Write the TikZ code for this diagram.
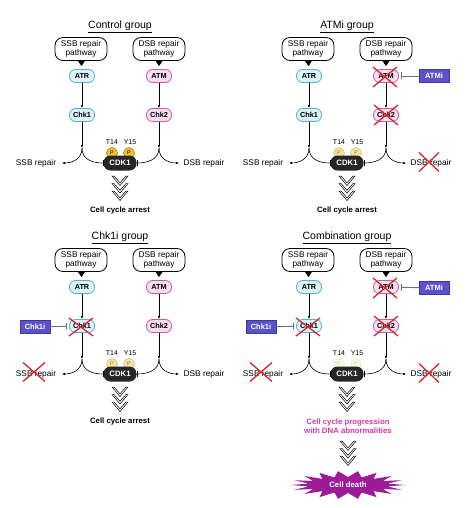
\documentclass[tikz,border=0pt]{standalone}
\usepackage{fontspec}
\setmainfont{Liberation Sans}
\usetikzlibrary{arrows.meta}
\definecolor{atrfill}{HTML}{DDF1F8}
\definecolor{atrdraw}{HTML}{5AAFD0}
\definecolor{atmfill}{HTML}{F9DDF1}
\definecolor{atmdraw}{HTML}{C45FA6}
\definecolor{inhib}{HTML}{5B52C9}
\definecolor{inhibdraw}{HTML}{3E37A0}
\definecolor{xred}{HTML}{D7262B}
\definecolor{phos}{HTML}{F2C12E}
\definecolor{phosdraw}{HTML}{9C7400}
\definecolor{progtext}{HTML}{D6379F}
\definecolor{death}{HTML}{9B1B98}
\tikzset{
 title/.style={inner sep=1pt, font=\fontsize{10.5}{12}\selectfont},
 pathbox/.style={draw, line width=0.8pt, rounded corners=8pt, align=center, minimum width=52pt, minimum height=23pt, font=\fontsize{8.3}{9.3}\selectfont, inner sep=1pt},
 protbox/.style={draw, line width=0.8pt, rounded corners=6pt, minimum width=25pt, minimum height=13pt, font=\bfseries\fontsize{7.3}{8}\selectfont, inner sep=1pt},
 atrbox/.style={protbox, fill=atrfill, draw=atrdraw},
 atmbox/.style={protbox, fill=atmfill, draw=atmdraw},
 cdkbox/.style={fill=black!85, text=white, rounded corners=7pt, minimum width=33pt, minimum height=15pt, inner sep=1pt, font=\bfseries\fontsize{7.8}{8}\selectfont},
 phosc/.style={circle, fill=phos, draw=phosdraw, line width=0.5pt, minimum size=11pt, inner sep=0pt, font=\fontsize{5.5}{5.5}\selectfont},
 lbl/.style={inner sep=1pt, font=\fontsize{8.3}{9}\selectfont},
 smalll/.style={inner sep=1pt, font=\fontsize{7}{8}\selectfont},
 boldl/.style={inner sep=1pt, align=center, font=\bfseries\fontsize{7.8}{9.5}\selectfont},
 inhbox/.style={fill=inhib, draw=inhibdraw, line width=0.5pt, text=white, minimum width=30pt, minimum height=13pt, inner sep=1pt, font=\bfseries\fontsize{7.5}{8}\selectfont},
 act/.style={line width=0.6pt, -{Latex[length=3pt,width=2.6pt]}},
 trig/.style={line width=0.8pt, shorten >=3pt, -{Triangle[length=5pt,width=6.5pt]}},
 blk/.style={line width=0.6pt, -{Bar[width=6pt,line width=0.8pt]}},
 inhline/.style={line width=0.9pt, draw=black!55, shorten >=2pt, -{Bar[width=7pt,line width=0.9pt]}},
 redx/.style={draw=xred, line width=1.3pt},
 chev/.style={fill=white, draw=black, line width=0.5pt, line join=miter},
}
\newcommand\chevrons[2]{%
 \foreach \k in {0,1,2}{%
  \draw[chev] ({#1-8},{#2+7.5*\k}) -- ({#1-6},{#2+7.5*\k}) -- (#1,{#2+7.5*\k+6.8}) -- ({#1+6},{#2+7.5*\k}) -- ({#1+8},{#2+7.5*\k}) -- (#1,{#2+7.5*\k+9.5}) -- cycle;
 }%
}
\newcommand\crossout[4]{% cx cy half-width half-height
 \draw[redx] ({#1-#3},{#2-#4}) -- ({#1+#3},{#2+#4});
 \draw[redx] ({#1-#3},{#2+#4}) -- ({#1+#3},{#2-#4});
}
\newcommand\drawpanel[3]{%
 \node[title] (#1title) at (120,27) {\underline{#2}};
 \node[pathbox] (#1ssb) at (81,49) {SSB repair\\pathway};
 \node[pathbox] (#1dsb) at (159,49) {DSB repair\\pathway};
 \node[atrbox] (#1atr) at (82,76) {ATR};
 \node[atrbox] (#1chk1) at (82,115) {Chk1};
 \node[atmbox] (#1atm) at (159,76) {ATM};
 \node[atmbox] (#1chk2) at (159,115) {Chk2};
 \draw[trig] (#1ssb) -- (#1atr);
 \draw[trig] (#1dsb) -- (#1atm);
 \draw[act] (#1atr) -- (#1chk1);
 \draw[act] (#1atm) -- (#1chk2);
 \node[phosc, opacity=#3] (#1p1) at (112,153) {P};
 \node[phosc, opacity=#3] (#1p2) at (129,153) {P};
 \node[smalll] (#1t14) at (112,142.5) {T14};
 \node[smalll] (#1y15) at (130,142.5) {Y15};
 \node[cdkbox] (#1cdk) at (120,163) {CDK1};
 \node[lbl] (#1ssbl) at (36,163) {SSB repair};
 \node[lbl] (#1dsbl) at (204,163) {DSB repair};
 \coordinate (#1fl) at (82,148);
 \coordinate (#1fr) at (159,148);
 \coordinate (#1sl) at (62,163);
 \coordinate (#1dl) at (179,163);
 \draw[act] (#1chk1) -- (#1fl);
 \draw[act] (#1chk2) -- (#1fr);
 \draw[act] (#1fl) .. controls +(0,12) and +(9,0) .. (#1sl);
 \draw[blk] (#1fl) .. controls +(0,12) and +(-10,0) .. (#1cdk.west);
 \draw[act] (#1fr) .. controls +(0,12) and +(-9,0) .. (#1dl);
 \draw[blk] (#1fr) .. controls +(0,12) and +(10,0) .. (#1cdk.east);
 \chevrons{120}{176}
}
\begin{document}
\begin{tikzpicture}[x=1pt,y=-1pt]
\useasboundingbox (0,0) rectangle (474,508);
% Control
\drawpanel{c}{Control group}{1}
\node[boldl] (carrest) at (120,210) {Cell cycle arrest};
% ATMi
\begin{scope}[shift={(227,0)}]
\drawpanel{a}{ATMi group}{0.45}
\node[boldl] (aarrest) at (120,210) {Cell cycle arrest};
\node[inhbox] (aatmi) at (207,76) {ATMi};
\draw[inhline] (aatmi) -- (aatm);
\crossout{158}{77}{12}{10}
\crossout{159}{115}{12}{10}
\crossout{202}{162}{10}{9.5}
\end{scope}
% Chk1i
\begin{scope}[shift={(0,211)}]
\drawpanel{k}{Chk1i group}{0.45}
\node[boldl] (karrest) at (120,210) {Cell cycle arrest};
\node[inhbox] (kchk1i) at (35,116) {Chk1i};
\draw[inhline] (kchk1i) -- (kchk1);
\crossout{81}{116}{12}{9}
\crossout{34}{161}{11}{9.5}
\end{scope}
% Combination
\begin{scope}[shift={(227,211)}]
\drawpanel{m}{Combination group}{0.15}
\node[inhbox] (matmi) at (207,77) {ATMi};
\draw[inhline] (matmi) -- (matm);
\node[inhbox] (mchk1i) at (34,116) {Chk1i};
\draw[inhline] (mchk1i) -- (mchk1);
\crossout{158}{77}{12}{10}
\crossout{159}{115}{12}{10}
\crossout{81}{116}{12}{9}
\crossout{34}{161}{11}{9.5}
\crossout{202}{162}{10}{9.5}
\node[boldl, text=progtext] (mprog) at (121,215) {Cell cycle progression\\with DNA abnormalities};
\chevrons{121}{230}
\fill[death] (178,274) \foreach \i in {1,...,35}{ -- ({121+(40+17*(1-mod(\i,2)))*cos(\i*10)}, {274+(8+6*(1-mod(\i,2)))*sin(\i*10)}) } -- cycle;
\node[boldl, text=white] (mdeath) at (121,274) {Cell death};
\end{scope}
\end{tikzpicture}
\end{document}
